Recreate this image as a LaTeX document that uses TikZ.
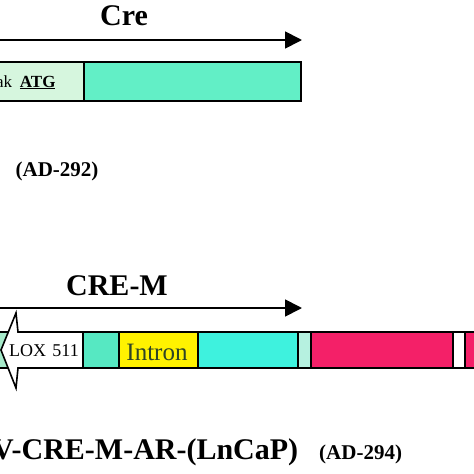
\documentclass[tikz,border=0pt]{standalone}
\usepackage{fontspec}
\setmainfont{Liberation Serif}
\usetikzlibrary{arrows.meta}
\definecolor{palegreen}{HTML}{D6F6DE}
\definecolor{aqua}{HTML}{62EFC6}
\definecolor{tealseg}{HTML}{56E8C2}
\definecolor{cyanseg}{HTML}{3EF2DE}
\definecolor{paleseg}{HTML}{B6F1E0}
\definecolor{redseg}{HTML}{F42068}
\definecolor{yellowseg}{HTML}{FFF200}
\definecolor{lefttip}{HTML}{A6EACA}
\definecolor{introntext}{HTML}{2E4426}
\tikzset{
  seg/.style={draw=black, line width=1.6pt, anchor=north west, inner sep=0pt, outer sep=0pt},
  fwd/.style={line width=1.8pt, -{Triangle[length=17pt,width=17pt]}},
  big/.style={font=\fontsize{30}{36}\selectfont\bfseries, anchor=base, inner sep=0pt},
  tag/.style={font=\fontsize{21}{25}\selectfont\bfseries, anchor=base, inner sep=0pt}
}
\begin{document}
\begin{tikzpicture}[x=1pt,y=-1pt]
\useasboundingbox (0,0) rectangle (474,474);
\fill[white] (0,0) rectangle (474,474);
% ---------- top construct ----------
\node[big] (cre) at (124,25) {Cre};
\coordinate (a1s) at (-2,40);
\coordinate (a1e) at (302,40);
\draw[fwd] (a1s) -- (a1e);
\node[seg, fill=palegreen, minimum width=88, minimum height=39] (kozak) at (-4,62) {};
\node[seg, fill=aqua, minimum width=217, minimum height=39] (crebox) at (84,62) {};
\node[anchor=base west, inner sep=0pt, font=\fontsize{17}{20}\selectfont] (ak) at (-4,87) {ak\hspace{0.45em}\textbf{\underline{ATG}}};
\node[tag] (ad292) at (57,176) {(AD-292)};
% ---------- bottom construct ----------
\node[big] (crem) at (117,295) {CRE-M};
\coordinate (a2s) at (-2,308);
\coordinate (a2e) at (302,308);
\draw[fwd] (a2s) -- (a2e);
\node[seg, fill=lefttip, minimum width=87, minimum height=36] (leftseg) at (-4,332) {};
\node[seg, fill=tealseg, minimum width=36, minimum height=36] (teal) at (83,332) {};
\node[seg, fill=yellowseg, minimum width=79, minimum height=36] (intron) at (119,332) {};
\node[seg, fill=cyanseg, minimum width=100, minimum height=36] (cyan) at (198,332) {};
\node[seg, fill=paleseg, minimum width=13, minimum height=36] (pale) at (298,332) {};
\node[seg, fill=redseg, minimum width=142, minimum height=36] (red1) at (311,332) {};
\node[seg, fill=white, minimum width=12, minimum height=36] (gap) at (453,332) {};
\node[seg, fill=redseg, minimum width=20, minimum height=36] (red2) at (465,332) {};
% LOX 511 left-pointing block arrow
\filldraw[fill=white, draw=black, line width=1.6pt, line join=miter]
  (1,350) -- (16,313) -- (18,332) -- (83,332) -- (83,368) -- (18,368) -- (16,388) -- cycle;
\node[anchor=base, inner sep=0pt, font=\fontsize{18}{21}\selectfont] (lox) at (44,356) {LOX\hspace{0.35em}511};
\node[anchor=base, inner sep=0pt, font=\fontsize{25}{30}\selectfont, text=introntext] (introntxt) at (157,360) {Intron};
\node[anchor=base west, inner sep=0pt, font=\fontsize{30}{36}\selectfont\bfseries] (name) at (-8,459) {V-CRE-M-AR-(LnCaP)};
\node[tag, anchor=base west] (ad294) at (319,459) {(AD-294)};
\end{tikzpicture}
\end{document}
